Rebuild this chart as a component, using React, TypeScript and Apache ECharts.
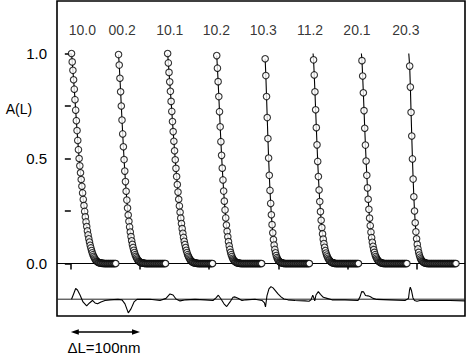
import React, { useEffect, useRef } from 'react';
import * as echarts from 'echarts';

// Reflection names (curve labels)
const reflections = ['10.0', '00.2', '10.1', '10.2', '10.3', '11.2', '20.1', '20.3'];
// L (nm) of the first sampled point of every curve; samples every stepL nm
const startL = [1, 69, 140, 211, 281, 351, 421, 490];
const stepL = 1;
// L (nm) where the fitted line reaches A = 1 (only where it lies above the first data point)
const fitTopL: (number | null)[] = [null, null, null, null, null, 350.3, 420.2, 488.7];

// Measured A(L) values
const A_10_0 = [1.00, 0.96, 0.92, 0.875, 0.83, 0.78, 0.73, 0.68, 0.633, 0.586,
  0.542, 0.50, 0.465, 0.432, 0.40, 0.368, 0.336, 0.305, 0.276, 0.248,
  0.222, 0.198, 0.176, 0.155, 0.136, 0.118, 0.102, 0.087, 0.074, 0.062,
  0.051, 0.042, 0.034, 0.027, 0.021, 0.016, 0.012, 0.009, 0.007, 0.005,
  0.004, 0.003, 0.002, 0.002, 0.001, 0.001, 0.001, 0, 0, 0,
  0, 0, 0, 0, 0, 0, 0, 0, 0, 0,
  0, 0, 0, 0, 0];
const A_00_2 = [0.995, 0.945, 0.882, 0.818, 0.75, 0.683, 0.617, 0.556, 0.495, 0.44,
  0.39, 0.344, 0.302, 0.264, 0.231, 0.201, 0.174, 0.15, 0.128, 0.108,
  0.091, 0.076, 0.063, 0.052, 0.042, 0.034, 0.027, 0.021, 0.016, 0.012,
  0.009, 0.007, 0.005, 0.004, 0.003, 0.002, 0.002, 0.001, 0.001, 0,
  0, 0, 0, 0, 0, 0, 0, 0, 0, 0,
  0, 0, 0, 0, 0, 0, 0, 0, 0, 0,
  0, 0, 0, 0, 0, 0, 0, 0, 0];
const A_10_1 = [1.00, 0.955, 0.91, 0.865, 0.82, 0.772, 0.724, 0.676, 0.628, 0.582,
  0.537, 0.494, 0.453, 0.414, 0.376, 0.34, 0.306, 0.274, 0.244, 0.216,
  0.19, 0.166, 0.144, 0.124, 0.106, 0.09, 0.076, 0.063, 0.052, 0.042,
  0.034, 0.027, 0.021, 0.016, 0.012, 0.009, 0.007, 0.005, 0.004, 0.003,
  0.002, 0.002, 0.001, 0.001, 0, 0, 0, 0, 0, 0,
  0, 0, 0, 0, 0, 0, 0, 0, 0, 0,
  0, 0, 0, 0, 0, 0];
const A_10_2 = [0.99, 0.93, 0.866, 0.795, 0.723, 0.651, 0.58, 0.515, 0.454, 0.398,
  0.345, 0.297, 0.255, 0.217, 0.183, 0.153, 0.127, 0.104, 0.084, 0.067,
  0.053, 0.042, 0.033, 0.025, 0.019, 0.014, 0.01, 0.008, 0.006, 0.004,
  0.003, 0.002, 0.002, 0.001, 0.001, 0, 0, 0, 0, 0,
  0, 0, 0, 0, 0, 0, 0, 0, 0, 0,
  0, 0, 0, 0, 0, 0, 0, 0, 0, 0,
  0, 0, 0, 0, 0, 0];
const A_10_3 = [0.975, 0.895, 0.795, 0.695, 0.595, 0.502, 0.42, 0.348, 0.286, 0.232,
  0.185, 0.146, 0.114, 0.088, 0.067, 0.051, 0.038, 0.028, 0.021, 0.015,
  0.011, 0.008, 0.006, 0.004, 0.003, 0.002, 0.001, 0.001, 0, 0,
  0, 0, 0, 0, 0, 0, 0, 0, 0, 0,
  0, 0, 0, 0, 0, 0, 0, 0, 0, 0,
  0, 0, 0, 0, 0, 0, 0, 0, 0, 0,
  0, 0, 0, 0, 0];
const A_11_2 = [0.97, 0.898, 0.818, 0.732, 0.647, 0.565, 0.486, 0.414, 0.35, 0.295,
  0.247, 0.206, 0.171, 0.141, 0.116, 0.095, 0.077, 0.062, 0.05, 0.04,
  0.032, 0.025, 0.019, 0.015, 0.011, 0.008, 0.006, 0.004, 0.003, 0.002,
  0.001, 0.001, 0, 0, 0, 0, 0, 0, 0, 0,
  0, 0, 0, 0, 0, 0, 0, 0, 0, 0,
  0, 0, 0, 0, 0, 0, 0, 0, 0, 0,
  0, 0, 0, 0, 0, 0];
const A_20_1 = [0.966, 0.893, 0.813, 0.728, 0.644, 0.564, 0.488, 0.42, 0.36, 0.306,
  0.258, 0.216, 0.18, 0.149, 0.123, 0.101, 0.082, 0.066, 0.053, 0.042,
  0.033, 0.026, 0.02, 0.015, 0.011, 0.008, 0.006, 0.004, 0.003, 0.002,
  0.001, 0.001, 0, 0, 0, 0, 0, 0, 0, 0,
  0, 0, 0, 0, 0, 0, 0, 0, 0, 0,
  0, 0, 0, 0, 0, 0, 0, 0, 0, 0,
  0, 0, 0, 0, 0, 0];
const A_20_3 = [0.94, 0.84, 0.72, 0.607, 0.498, 0.402, 0.318, 0.25, 0.194, 0.151,
  0.118, 0.091, 0.07, 0.053, 0.04, 0.03, 0.022, 0.016, 0.012, 0.009,
  0.006, 0.004, 0.003, 0.002, 0.001, 0.001, 0, 0, 0, 0,
  0, 0, 0, 0, 0, 0, 0, 0, 0, 0,
  0, 0, 0, 0, 0, 0, 0, 0, 0, 0,
  0, 0, 0, 0, 0, 0, 0, 0, 0, 0,
  0, 0, 0, 0, 0, 0, 0, 0];
const curves = [A_10_0, A_00_2, A_10_1, A_10_2, A_10_3, A_11_2, A_20_1, A_20_3];

// Label anchor positions (nm) above each curve
const labelL = [16.6, 74.3, 143.1, 210.4, 278.3, 345.9, 413.8, 484.4];
const labelA = 1.113;

// Residual (fit - data) trace, drawn offset below the curves
const residBase = -0.17;
const residL = [1, 4, 7, 9.6, 13.3, 17.6, 22.9, 27, 31.3, 35,
  38.6, 43.6, 49.4, 56.6, 68.2, 74, 78.3, 83.1, 87, 91.4,
  95.7, 114.5, 129, 137.6, 143.4, 147.8, 152.1, 157.9, 166.5, 179.6,
  194, 205.6, 209.9, 213.3, 217.2, 221.5, 225.4, 230.2, 234.5, 237.4,
  241.7, 247.5, 253.3, 266.3, 276.4, 280, 281.5, 283.6, 286.5, 289.4,
  292.4, 296, 299.6, 303.9, 308.2, 314, 324.2, 338.6, 344.4, 347.3,
  349.8, 350.9, 352.7, 354.5, 357.9, 361, 365.1, 370.4, 377.7, 396.5,
  415.3, 418.2, 420.6, 423.2, 426.1, 429.7, 433.3, 437, 442.8, 461.5,
  483.3, 488.3, 489.8, 490.9, 492.7, 494.8, 497, 500.6, 504.9, 526.6,
  548.3, 570];
const residA = [0, 0.025, 0.051, 0.044, 0.02, -0.013, -0.032, -0.018, -0.006, -0.018,
  -0.022, -0.013, -0.006, -0.003, -0.001, -0.003, -0.022, -0.065, -0.046, -0.013,
  -0.001, 0, -0.006, 0.004, 0.025, 0.02, 0.001, -0.008, -0.003, -0.001,
  -0.003, -0.006, 0.006, 0.019, 0.001, -0.022, -0.035, -0.013, 0.009, 0.011,
  0.004, -0.006, -0.003, 0, -0.006, -0.018, -0.037, 0.016, 0.049, 0.06,
  0.054, 0.04, 0.025, 0.011, 0.001, -0.003, -0.006, -0.008, -0.01, -0.003,
  0.019, 0.011, -0.008, 0.02, 0.036, 0.023, 0.009, 0.004, -0.003, -0.003,
  -0.006, 0.011, 0.036, 0.035, 0.018, 0.016, 0.012, 0.004, -0.001, -0.003,
  -0.006, 0.004, 0.044, 0.057, 0.04, 0.006, -0.006, -0.01, -0.006, -0.006,
  -0.006, -0.008];

// Axes
const xMin = -20;
const xMax = 570;
const yMin = -0.25;
const yMax = 1.25;
const xTicks = [0, 100, 200, 300, 400, 500];
const yTicks = [0, 0.25, 0.5, 0.75, 1];
const yLabels = [0, 0.5, 1];
const scaleBarStart = 0;
const scaleBarNm = 100;

const FONT = 'Liberation Sans, Arial, Helvetica, sans-serif';

export default function App() {
  const ref = useRef<HTMLDivElement>(null);
  useEffect(() => {
    if (!ref.current) return;
    const chart = echarts.init(ref.current, null, { renderer: 'svg' });

    const lineSeries: any[] = [];
    const dotSeries: any[] = [];
    curves.forEach((vals, ci) => {
      const pts = vals.map((a, i) => [startL[ci] + i * stepL, a]);
      const top = fitTopL[ci];
      const fit = top != null ? [[top, 1], ...pts] : pts;
      lineSeries.push({
        type: 'line',
        data: fit,
        showSymbol: false,
        symbol: 'none',
        lineStyle: { color: '#000', width: 1.1 },
        silent: true,
        z: 3,
      });
      dotSeries.push({
        type: 'scatter',
        data: pts,
        symbol: 'circle',
        symbolSize: 6.5,
        itemStyle: { color: '#fff', borderColor: '#000', borderWidth: 1.1 },
        silent: true,
        z: 4,
      });
    });

    const option: any = {
      animation: false,
      grid: {
        left: 57,
        right: 9,
        top: 1,
        bottom: 46,
        show: true,
        borderColor: '#000',
        borderWidth: 1.6,
        containLabel: false,
        outerBoundsMode: 'none',
      },
      xAxis: {
        type: 'value',
        min: xMin,
        max: xMax,
        axisLine: { show: false },
        splitLine: { show: false },
        axisTick: {
          show: true,
          inside: false,
          length: 6,
          customValues: xTicks,
          lineStyle: { color: '#000', width: 1.5 },
        },
        axisLabel: { show: false },
      },
      yAxis: {
        type: 'value',
        min: yMin,
        max: yMax,
        axisLine: { show: false },
        splitLine: { show: false },
        axisTick: {
          show: true,
          inside: false,
          length: 6,
          customValues: yTicks,
          lineStyle: { color: '#000', width: 1.5 },
        },
        axisLabel: {
          show: true,
          customValues: yLabels,
          margin: 10,
          formatter: (v: number) => v.toFixed(1),
          fontFamily: FONT,
          fontSize: 15,
          color: '#000',
        },
      },
      series: [
        {
          type: 'line',
          data: [[xMin, 0], [xMax, 0]],
          showSymbol: false,
          symbol: 'none',
          lineStyle: { color: '#000', width: 1 },
          silent: true,
          z: 2,
        },
        {
          type: 'line',
          data: [[xMin, residBase], [xMax, residBase]],
          showSymbol: false,
          symbol: 'none',
          lineStyle: { color: '#222', width: 1 },
          silent: true,
          z: 2,
        },
        {
          type: 'line',
          data: residL.map((l, i) => [l, residBase + residA[i]]),
          showSymbol: false,
          symbol: 'none',
          lineStyle: { color: '#000', width: 1.1 },
          silent: true,
          z: 3,
        },
        ...lineSeries,
        ...dotSeries,
        {
          type: 'scatter',
          data: reflections.map((r, i) => ({ name: r, value: [labelL[i], labelA] })),
          symbolSize: 1,
          itemStyle: { color: 'transparent' },
          silent: true,
          label: {
            show: true,
            position: 'inside',
            formatter: (p: any) => p.name,
            fontFamily: FONT,
            fontSize: 14,
            color: '#000',
          },
          z: 5,
        },
      ],
    };
    chart.setOption(option);

    const x0 = chart.convertToPixel({ xAxisIndex: 0 }, scaleBarStart) as number;
    const x1 = chart.convertToPixel({ xAxisIndex: 0 }, scaleBarStart + scaleBarNm) as number;
    const yb = 332;
    chart.setOption({
      graphic: [
        {
          type: 'text',
          x: 19,
          y: 109,
          style: {
            text: 'A(L)',
            fontFamily: FONT,
            fontSize: 14,
            fill: '#000',
            textAlign: 'center',
            textVerticalAlign: 'middle',
          },
        },
        {
          type: 'line',
          shape: { x1: x0 + 3, y1: yb, x2: x1 - 3, y2: yb },
          style: { stroke: '#000', lineWidth: 1.5 },
        },
        {
          type: 'polygon',
          shape: { points: [[x0, yb], [x0 + 8, yb - 2.8], [x0 + 8, yb + 2.8]] },
          style: { fill: '#000' },
        },
        {
          type: 'polygon',
          shape: { points: [[x1, yb], [x1 - 8, yb - 2.8], [x1 - 8, yb + 2.8]] },
          style: { fill: '#000' },
        },
        {
          type: 'text',
          x: (x0 + x1) / 2 - 1.5,
          y: 347,
          style: {
            text: `ΔL=${scaleBarNm}nm`,
            fontFamily: FONT,
            fontSize: 15,
            fill: '#000',
            textAlign: 'center',
            textVerticalAlign: 'middle',
          },
        },
      ],
    });

    return () => chart.dispose();
  }, []);
  return (
    <div
      ref={ref}
      style={{ position: 'absolute', left: 0, top: 0, width: 474, height: 362 }}
    />
  );
}
